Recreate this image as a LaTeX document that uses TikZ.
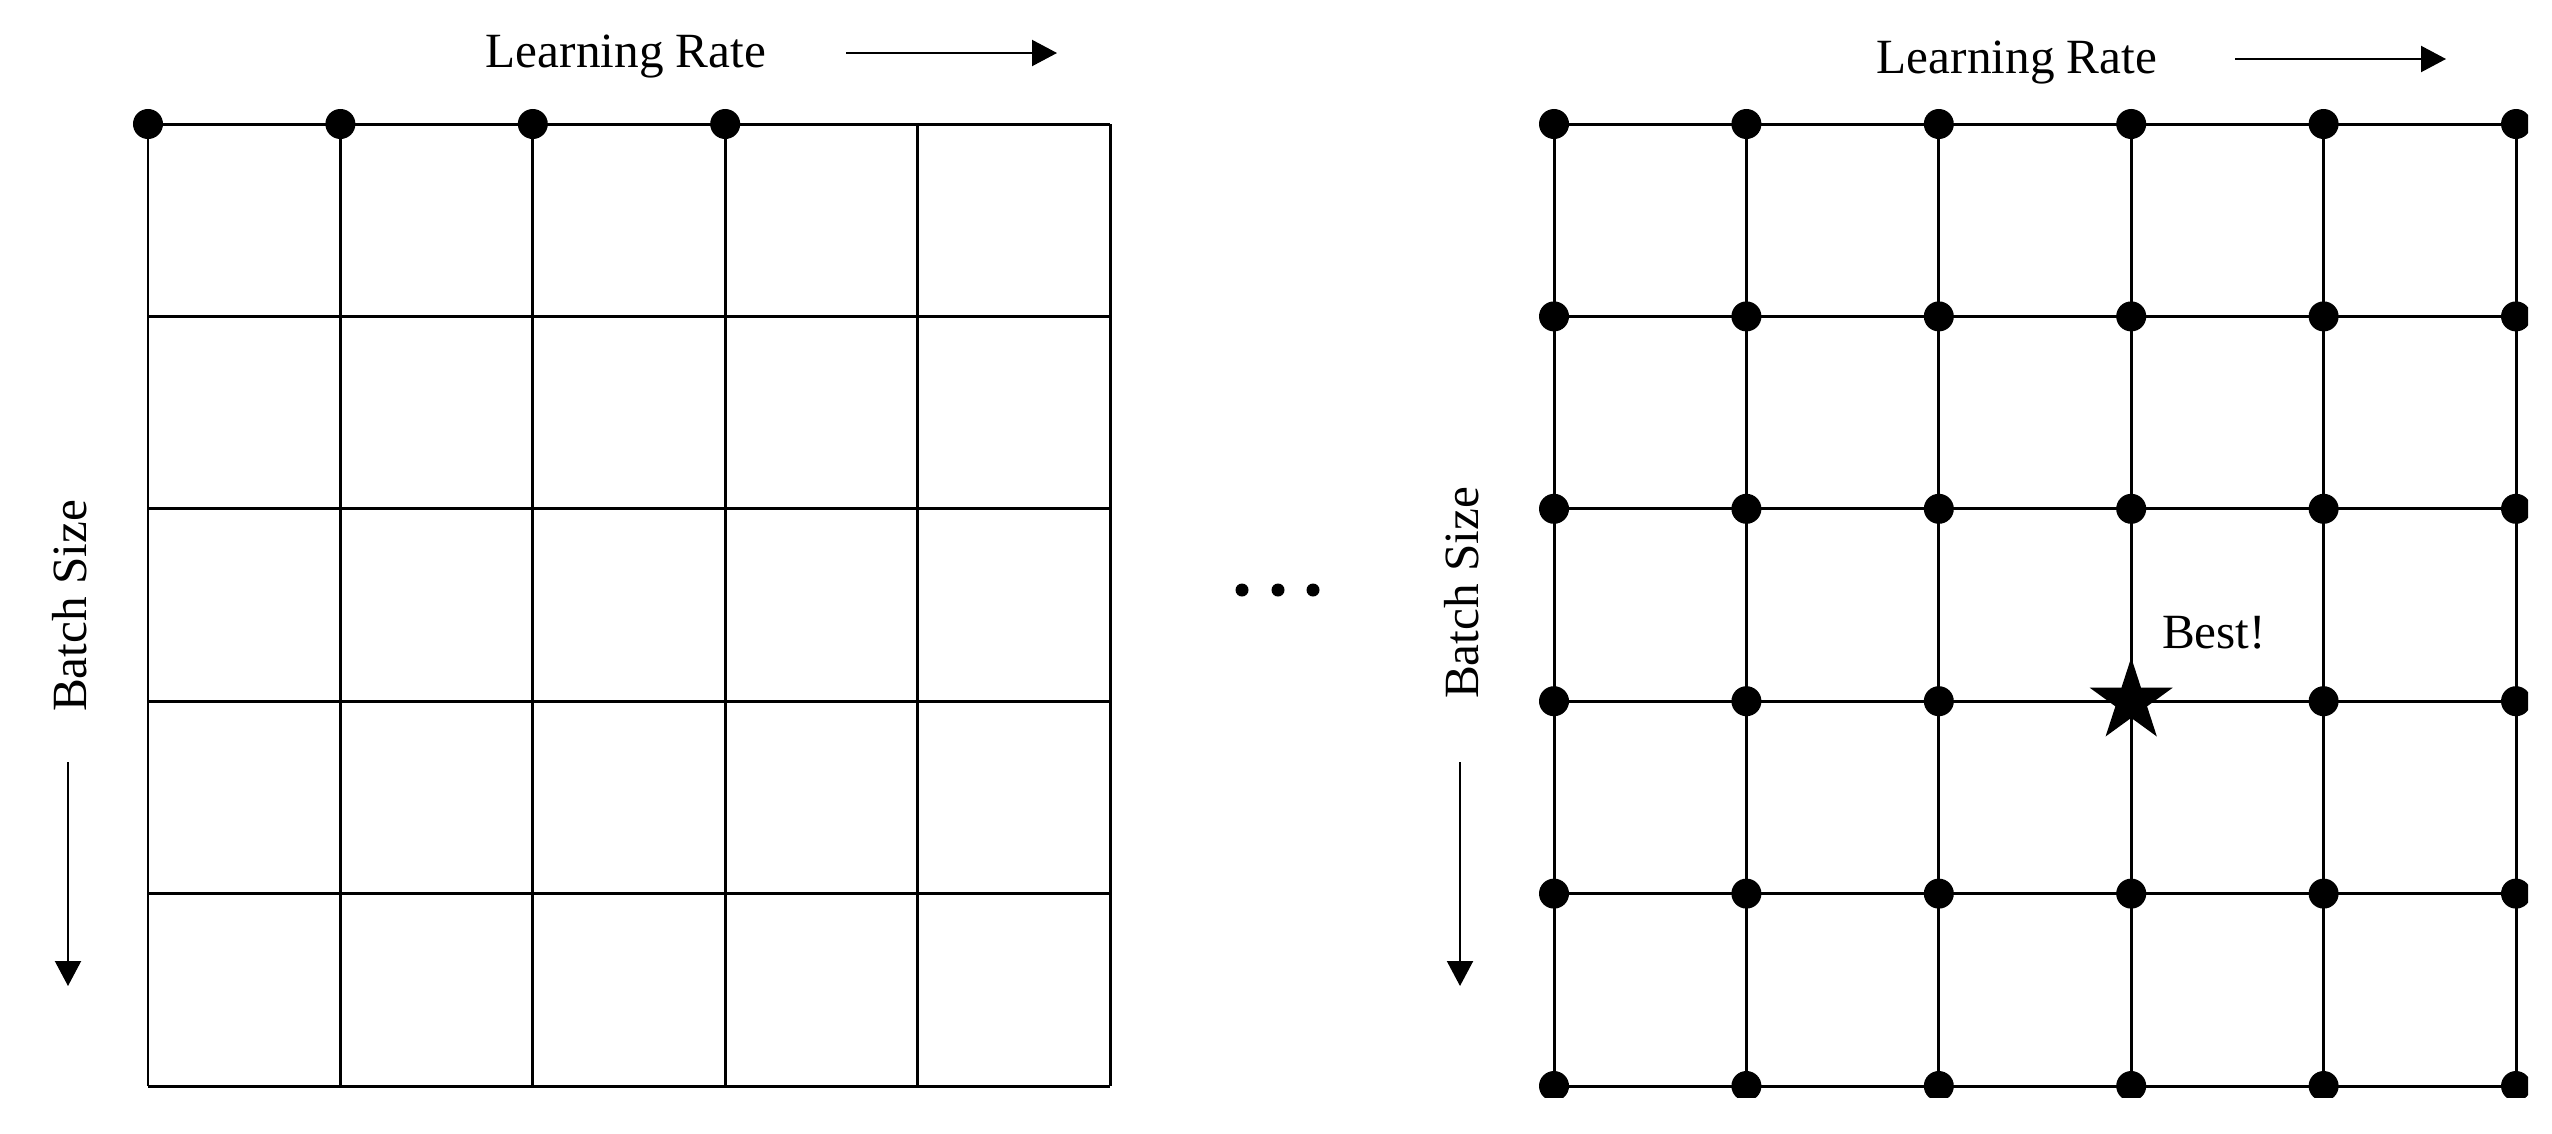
\documentclass[tikz,border=0pt]{standalone}
\usepackage{fontspec}
\setmainfont{Liberation Serif}
\usetikzlibrary{arrows.meta,shapes.geometric}

\tikzset{
  gridline/.style={black, line width=0.85pt},
  gridpoint/.style={fill=black},
  axisarrow/.style={black, line width=0.6pt, -{Triangle[length=0.25cm,width=0.26cm]}},
  axislabel/.style={font=\fontsize{14}{16}\selectfont, inner sep=0pt, anchor=base},
}

\begin{document}
\begin{tikzpicture}[x=0.01cm, y=-0.01cm]
  \useasboundingbox (0,0) rectangle (2552,1133);

  % Left grid
  \foreach \i in {0,...,5} {
    \draw[gridline] (148+192.4*\i,124) -- (148+192.4*\i,1086);
    \draw[gridline] (148,124+192.4*\i) -- (1110,124+192.4*\i);
  }
  % Sampled points (first row only)
  \foreach \i in {0,...,3}
    \fill[gridpoint] (148+192.4*\i,124) circle (0.15cm);

  % Labels / arrows, left
  \node[axislabel] (lrleft) at (626,67) {Learning Rate};
  \coordinate (lrleftA) at (846,53);
  \coordinate (lrleftB) at (1057,53);
  \draw[axisarrow] (lrleftA) -- (lrleftB);
  \node[axislabel, rotate=90] (bsleft) at (87,606) {Batch Size};
  \coordinate (bsleftA) at (68,762);
  \coordinate (bsleftB) at (68,986);
  \draw[axisarrow] (bsleftA) -- (bsleftB);

  % Dots in between
  \foreach \x in {1242,1278,1313}
    \fill (\x,590) circle (0.065cm);

  % Right grid (cut at the picture edge)
  \begin{scope}
    \clip (1500,0) rectangle (2528,1097);
    \foreach \i in {0,...,5} {
      \draw[gridline] (1554+192.4*\i,124) -- (1554+192.4*\i,1086);
      \draw[gridline] (1554,124+192.4*\i) -- (2516,124+192.4*\i);
    }
    \foreach \i in {0,...,5}
      \foreach \j in {0,...,5} {
        \ifnum\i\j=33 \else
          \fill[gridpoint] (1554+192.4*\i,124+192.4*\j) circle (0.15cm);
        \fi
      }
  \end{scope}

  % Best point
  \node[star, star points=5, star point ratio=2.618, minimum size=0.872cm,
        inner sep=0pt, fill=black] (best) at (2131.2,701.2) {};
  \node[axislabel] (bestlabel) at (2214,648) {Best!};

  % Labels / arrows, right
  \node[axislabel] (lrright) at (2017,73) {Learning Rate};
  \coordinate (lrrightA) at (2235,59);
  \coordinate (lrrightB) at (2446,59);
  \draw[axisarrow] (lrrightA) -- (lrrightB);
  \node[axislabel, rotate=90] (bsright) at (1478,593) {Batch Size};
  \coordinate (bsrightA) at (1460,762);
  \coordinate (bsrightB) at (1460,986);
  \draw[axisarrow] (bsrightA) -- (bsrightB);
\end{tikzpicture}
\end{document}
